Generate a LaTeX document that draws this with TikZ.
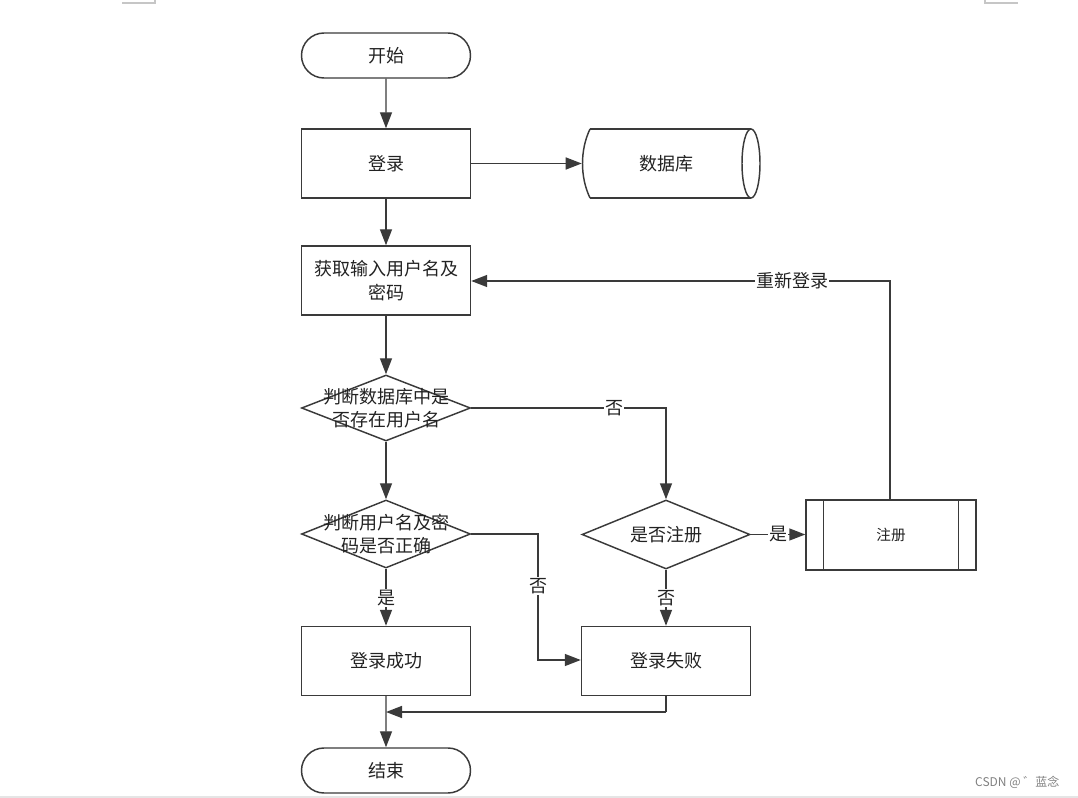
\documentclass[tikz,border=0pt]{standalone}
\usepackage{fontspec}
\setmainfont{Noto Sans CJK SC}
\usetikzlibrary{arrows.meta,shapes.geometric,shapes.misc,positioning}
\definecolor{ln}{HTML}{3A3A3A}
\definecolor{tx}{HTML}{222222}
\begin{document}
\begin{tikzpicture}[x=0.75pt,y=-0.75pt,
  every node/.style={text=tx,font=\fontsize{13.5}{17.5}\selectfont},
  term/.style={draw=ln,line width=1.1pt,rounded rectangle,minimum width=126.75pt,minimum height=33.75pt,inner sep=0pt},
  procbox/.style={draw=ln,line width=1.1pt,rectangle,minimum width=126.75pt,minimum height=51.75pt,inner sep=0pt,align=center},
  decide/.style={draw=ln,line width=1.1pt,diamond,minimum width=126.75pt,minimum height=50pt,inner sep=0pt},
  dtext/.style={align=center,inner sep=0pt},
  conn/.style={draw=ln,line width=1.1pt,-{Triangle[length=12pt,width=9pt]}},
  plain/.style={draw=ln,line width=1.1pt},
  lbl/.style={fill=white,inner sep=1pt}]
\useasboundingbox (0,0) rectangle (1078,798);
% page artifacts
\draw[gray!45,line width=0.8pt] (122,3) -- (155,3) -- (155,0);
\draw[gray!45,line width=0.8pt] (985,0) -- (985,3) -- (1018,3);
\draw[gray!20,line width=1.2pt] (0,797) -- (1078,797);

\node[term] (start) at (386,55.5) {开始};
\node[procbox] (login) at (386,163.5) {登录};
% database (horizontal cylinder), node spans x 582..760, y 129..198
\node[rectangle,minimum width=133.5pt,minimum height=51.75pt,inner sep=0pt] (db) at (671,163.5) {};
\node (dbt) at (666,163.5) {数据库};
\draw[plain] (590,129) -- (751,129) (590,198) -- (751,198);
\draw[plain] (590,129) .. controls (580,150) and (580,177) .. (590,198);
\draw[plain] (751,163.5) ellipse [x radius=9, y radius=34.5];
\node[procbox] (input) at (386,280.5) {获取输入用户名及\\密码};
\node[decide,minimum height=49.5pt] (d1) at (386,408) {};
\node[dtext] (d1t) at (386,408) {判断数据库中是\\否存在用户名};
\node[decide,minimum height=51pt] (d2) at (386,534) {};
\node[dtext] (d2t) at (386,534) {判断用户名及密\\码是否正确};
\node[procbox] (ok) at (386,661) {登录成功};
\node[term] (end) at (386,770.5) {结束};
\node[decide,minimum width=126pt,minimum height=51.75pt] (d3) at (666,534.5) {};
\node[dtext] (d3t) at (666,534.5) {是否注册};
\node[procbox,minimum width=127.5pt,minimum height=52.5pt,font=\fontsize{11}{13}\selectfont] (reg) at (891,535) {注册};
\draw[plain] ([xshift=13.5pt]reg.north west) -- ([xshift=13.5pt]reg.south west);
\draw[plain] ([xshift=-13.5pt]reg.north east) -- ([xshift=-13.5pt]reg.south east);
\node[procbox] (fail) at (666,661) {登录失败};

\coordinate (c1) at (666,408);
\coordinate (c2) at (538,534);
\coordinate (c3) at (538,660);
\coordinate (c4) at (890,281);
\coordinate (c5) at (666,712);
\coordinate (c6) at (386,712);

\draw[conn] (start) -- (login);
\draw[conn] (login) -- (db);
\draw[conn] (login) -- (input);
\draw[conn] (input) -- (d1);
\draw[conn] (d1) -- (d2);
\draw[conn] (d1.east) -- (c1) -- (d3.north);
\node[lbl] at (614,408) {否};
\draw[conn] (d2) -- (ok);
\node[lbl] at (386,598) {是};
\draw[conn] (d2.east) -- (c2) -- (c3) -- (fail.west |- c3);
\node[lbl] at (538,586) {否};
\draw[conn] (d3.east) -- (reg.west |- d3.east);
\node[lbl] at (778,534) {是};
\draw[conn] (d3) -- (fail);
\node[lbl] at (666,598) {否};
\draw[conn] (reg.north -| c4) -- (c4) -- (input.east |- c4);
\node[lbl] at (792,281) {重新登录};
\draw[conn] (ok) -- (end);
\draw[plain] (fail.south -| c5) -- (c5);
\draw[conn] (c5) -- (c6);

\node[text=gray,font=\fontsize{9}{11}\selectfont,anchor=east] (wm) at (1064,782) {CSDN @ ゛蓝念};
\end{tikzpicture}
\end{document}
